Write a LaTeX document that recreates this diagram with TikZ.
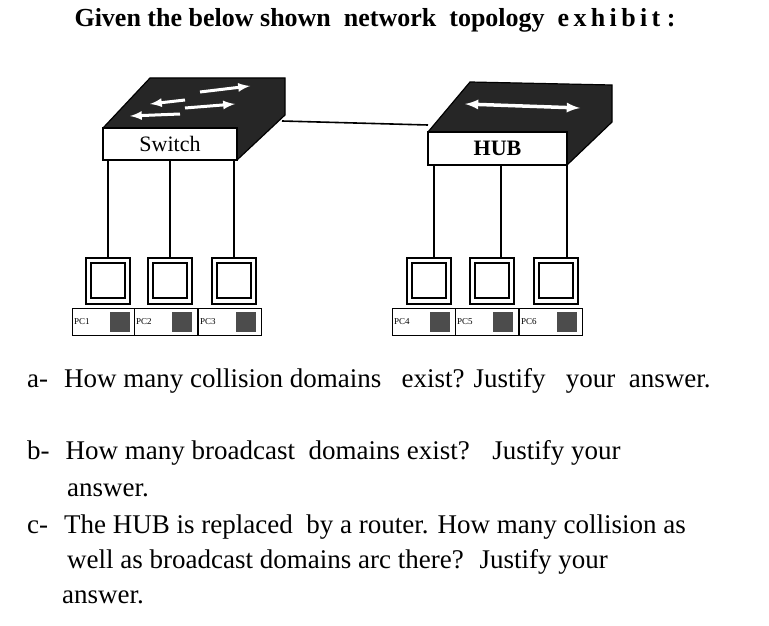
\documentclass[tikz,border=0pt]{standalone}
\usepackage{fontspec}
\setmainfont{Liberation Serif}
\begin{document}
\begin{tikzpicture}[x=1pt,y=-1pt,
  wire/.style={line width=1.6pt},
  face/.style={draw,line width=1.2pt,fill=white},
  txt/.style={anchor=west,inner sep=0,font=\fontsize{27}{30}\selectfont},
  mon/.style={draw,line width=1.5pt,fill=white,minimum width=44pt,minimum height=46pt,inner sep=0},
  base/.style={draw,line width=1.2pt,fill=white,minimum width=63pt,minimum height=27pt,inner sep=0}]
\useasboundingbox (0,0) rectangle (769,626);
\node[inner sep=0,font=\bfseries\fontsize{26}{28}\selectfont] (title) at (375,20) {Given the below shown \ network \ topology \ e\,x\,h\,i\,b\,i\,t :};
% switch
\fill[black!85] (103,128) -- (150,78) -- (285,78) -- (285,115) -- (237,160) -- (237,128) -- cycle;
\draw[line width=1.2pt] (103,128) -- (150,78) -- (285,78) -- (285,115) -- (237,160);
\draw[white,line width=3pt,-latex] (185,100)--(150,104);
\draw[white,line width=3pt,-latex] (200,92)--(250,86);
\draw[white,line width=3pt,-latex] (180,114)--(130,116);
\draw[white,line width=3pt,-latex] (185,108)--(235,104);
\node[face,minimum width=134pt,minimum height=32pt,font=\fontsize{22}{24}\selectfont] (sw) at (170,144) {Switch};
% hub
\fill[black!85] (428,132) -- (470,82) -- (612,85) -- (612,122) -- (567,165) -- (567,132) -- cycle;
\draw[line width=1.2pt] (428,132) -- (470,82) -- (612,85) -- (612,122) -- (567,165);
\draw[white,line width=3.5pt,latex-latex] (465,104)--(580,108);
\node[face,minimum width=139pt,minimum height=33pt,font=\bfseries\fontsize{22}{24}\selectfont] (hub) at (497.5,148.5) {HUB};
\coordinate (swp) at (282,121);
\coordinate (hbp) at (428,125);
\draw[wire] (swp) -- (hbp);
% PCs
\foreach \n/\x/\bx/\lab in {p1/108/104/PC1,p2/170/166/PC2,p3/234/230/PC3,p4/429/424/PC4,p5/492/487/PC5,p6/556/551/PC6}{
  \node[base] (\n b) at (\bx,322) {};
  \node[anchor=west,inner sep=2pt,font=\fontsize{9}{9}\selectfont] at (\n b.west) {\lab};
  \fill[black!70] (\bx+6,312) rectangle (\bx+26,332);
  \node[mon] (\n) at (\x,281) {};
  \draw[line width=1.5pt] (\x-17,263) rectangle (\x+17,298);
}
\foreach \n/\x in {p1/108,p2/170,p3/234}{\draw[wire] (\x,160) -- (\n.north);}
\foreach \n/\x in {p4/434,p5/501,p6/567}{\draw[wire] (\x,165) -- (\x,258);}
% text
\node[txt] (qa) at (27,381) {a-\hspace{16pt}How many collision domains \ \ exist? Justify \ \ your \ answer.};
\node[txt] (qb) at (27,453) {b-\hspace{16pt}How many broadcast \ domains exist? \ \ Justify your};
\node[txt] (qb2) at (67,490) {answer.};
\node[txt] (qc) at (27,527) {c-\hspace{16pt}The HUB is replaced \ by a router. How many collision as};
\node[txt] (qc2) at (67,562) {well as broadcast domains arc there? \ Justify your};
\node[txt] (qc3) at (62,597) {answer.};
\end{tikzpicture}
\end{document}
